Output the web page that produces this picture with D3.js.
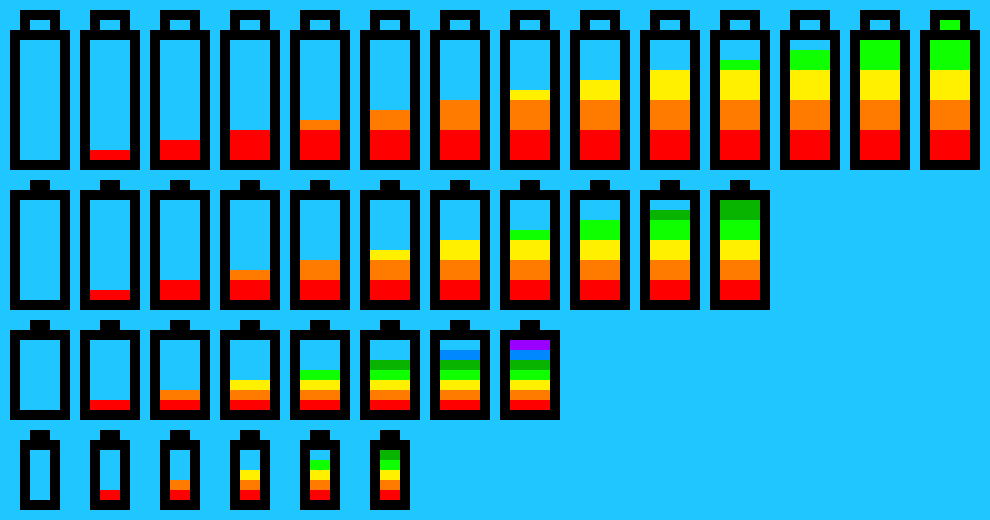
<!DOCTYPE html>
<html>
<head>
<meta charset="utf-8">
<script src="https://cdn.jsdelivr.net/npm/d3@7/dist/d3.min.js"></script>
<style>
html,body{margin:0;padding:0;background:#1fc6ff;overflow:hidden}
svg{display:block}
</style>
</head>
<body>
<script>
// Charge level of each battery, one list per row
const levelsRow1 = [0, 1, 2, 3, 4, 5, 6, 7, 8, 9, 10, 11, 12, 14];
const levelsRow2 = [0, 1, 2, 3, 4, 5, 6, 7, 8, 9, 10];
const levelsRow3 = [0, 1, 2, 3, 4, 5, 6, 7];
const levelsRow4 = [0, 1, 2, 3, 4, 5];

// Units of charge held by each colour band, bottom to top
const bandsRow1 = [3, 3, 3, 5];
const bandsRow2 = [2, 2, 2, 2, 2];
const bandsRow3 = [1, 1, 1, 1, 1, 1, 1];
const bandsRow4 = [1, 1, 1, 1, 1];

const bandColors = ["#ff0000", "#ff7b00", "#fff000", "#10ff00", "#08b400", "#0088ff", "#9900ff"];
const background = "#1fc6ff";
const outline = "#000000";

const W = 990, H = 520, U = 10;

// Layout of each row
const rows = [
  {levels: levelsRow1, bands: bandsRow1, left: 10, bodyW: 60, capTop: 10, bodyTop: 30, bodyBottom: 170, maxLevel: 14, scaleTop: 20, hollowCap: true},
  {levels: levelsRow2, bands: bandsRow2, left: 10, bodyW: 60, capTop: 180, bodyTop: 190, bodyBottom: 310, maxLevel: 10, scaleTop: 200, hollowCap: false},
  {levels: levelsRow3, bands: bandsRow3, left: 10, bodyW: 60, capTop: 320, bodyTop: 330, bodyBottom: 420, maxLevel: 7, scaleTop: 340, hollowCap: false},
  {levels: levelsRow4, bands: bandsRow4, left: 20, bodyW: 40, capTop: 430, bodyTop: 440, bodyBottom: 510, maxLevel: 5, scaleTop: 450, hollowCap: false}
];

const svg = d3.select("body").append("svg")
  .attr("width", W).attr("height", H)
  .attr("viewBox", [0, 0, W, H])
  .attr("shape-rendering", "crispEdges");

svg.append("rect").attr("width", W).attr("height", H).attr("fill", background);

const rect = (x, y, w, h) => `M${x},${y}h${w}v${h}h${-w}Z`;

rows.forEach((row, r) => {
  const x = d3.scaleLinear().domain([0, 1]).range([row.left, row.left + 70]);
  const y = d3.scaleLinear().domain([0, row.maxLevel]).range([row.bodyBottom - U, row.scaleTop]);
  const limits = d3.cumsum(row.bands);

  const g = svg.append("g").attr("class", "row row-" + r);
  const batt = g.selectAll("g").data(row.levels).join("g")
    .attr("transform", (d, i) => `translate(${x(i)},0)`);

  // colour bands cut off at this battery's level
  batt.selectAll("rect.band")
    .data(level => row.bands.map((b, k) => ({
      lo: k ? limits[k - 1] : 0,
      hi: Math.min(limits[k], level),
      color: bandColors[k]
    })).filter(s => s.hi > s.lo))
    .join("rect")
    .attr("class", "band")
    .attr("x", U)
    .attr("width", row.bodyW - 2 * U)
    .attr("y", s => y(s.hi))
    .attr("height", s => y(s.lo) - y(s.hi))
    .attr("fill", s => s.color);

  // black outline on top: body ring plus cap
  const bw = row.bodyW;
  const capH = row.bodyTop - row.capTop;
  const bodyH = row.bodyBottom - row.bodyTop;
  let d = rect(0, row.bodyTop, bw, bodyH) + rect(U, row.bodyTop + U, bw - 2 * U, bodyH - 2 * U);
  if (row.hollowCap) {
    d += rect(U, row.capTop, bw - 2 * U, capH) + rect(2 * U, row.capTop + U, bw - 4 * U, capH - U);
  } else {
    d += rect((bw - 2 * U) / 2, row.capTop, 2 * U, capH);
  }
  batt.append("path").attr("d", d).attr("fill", outline).attr("fill-rule", "evenodd");
});
</script>
</body>
</html>
